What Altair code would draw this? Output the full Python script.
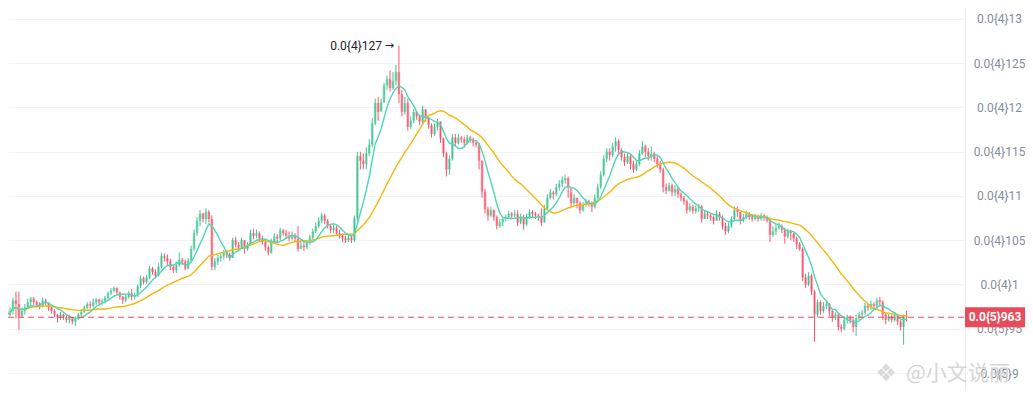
import altair as alt
import pandas as pd

# prices in units of 1e-6 (0.0{5}963 = 0.00000963 -> 9.63)
first_open = 9.72
close = [
    9.66, 9.70, 9.82, 9.78, 9.64, 9.70, 9.74, 9.80, 9.84, 9.80,
    9.77, 9.76, 9.82, 9.79, 9.74, 9.70, 9.66, 9.62, 9.66, 9.63,
    9.60, 9.62, 9.58, 9.61, 9.66, 9.69, 9.74, 9.78, 9.76, 9.80,
    9.83, 9.80, 9.81, 9.85, 9.90, 9.93, 9.96, 9.91, 9.86, 9.82,
    9.86, 9.90, 9.86, 9.88, 9.98, 10.07, 10.03, 10.08, 10.18, 10.14,
    10.10, 10.20, 10.32, 10.30, 10.26, 10.20, 10.16, 10.22, 10.28, 10.26,
    10.18, 10.27, 10.40, 10.58, 10.72, 10.80, 10.74, 10.82, 10.74, 10.20,
    10.26, 10.30, 10.32, 10.36, 10.34, 10.30, 10.50, 10.45, 10.42, 10.50,
    10.40, 10.45, 10.58, 10.55, 10.58, 10.52, 10.48, 10.42, 10.36, 10.48,
    10.54, 10.52, 10.61, 10.58, 10.55, 10.52, 10.56, 10.52, 10.40, 10.44,
    10.42, 10.47, 10.53, 10.60, 10.66, 10.72, 10.78, 10.72, 10.66, 10.62,
    10.64, 10.58, 10.55, 10.52, 10.50, 10.53, 10.50, 10.75, 11.45, 11.40,
    11.36, 11.48, 11.58, 11.82, 12.05, 11.95, 12.06, 12.25, 12.32, 12.22,
    12.30, 12.40, 12.15, 11.95, 12.05, 11.78, 11.85, 11.95, 11.90, 11.84,
    11.98, 11.88, 11.80, 11.70, 11.78, 11.84, 11.65, 11.48, 11.30, 11.42,
    11.66, 11.60, 11.66, 11.64, 11.60, 11.66, 11.64, 11.60, 11.58, 11.40,
    11.05, 10.85, 10.78, 10.84, 10.76, 10.66, 10.70, 10.74, 10.76, 10.80,
    10.78, 10.80, 10.70, 10.76, 10.68, 10.76, 10.82, 10.80, 10.78, 10.76,
    10.70, 10.86, 10.98, 11.04, 11.02, 11.10, 11.14, 11.18, 11.20, 11.10,
    10.92, 10.98, 10.92, 10.84, 10.90, 10.94, 10.92, 10.88, 10.98, 11.10,
    11.24, 11.42, 11.50, 11.46, 11.56, 11.62, 11.52, 11.44, 11.38, 11.45,
    11.36, 11.30, 11.36, 11.48, 11.56, 11.50, 11.45, 11.48, 11.42, 11.36,
    11.30, 11.10, 11.06, 11.12, 11.04, 11.08, 11.02, 10.98, 10.94, 10.84,
    10.88, 10.83, 10.86, 10.88, 10.74, 10.80, 10.78, 10.76, 10.72, 10.80,
    10.76, 10.66, 10.60, 10.66, 10.74, 10.84, 10.82, 10.72, 10.76, 10.80,
    10.76, 10.74, 10.77, 10.74, 10.78, 10.75, 10.72, 10.56, 10.60, 10.64,
    10.66, 10.62, 10.54, 10.60, 10.58, 10.52, 10.46, 10.40, 10.08, 10.00,
    10.10, 9.92, 9.66, 9.80, 9.70, 9.76, 9.78, 9.70, 9.62, 9.66,
    9.52, 9.50, 9.60, 9.63, 9.60, 9.52, 9.62, 9.66, 9.68, 9.76,
    9.74, 9.78, 9.76, 9.82, 9.80, 9.66, 9.60, 9.64, 9.60, 9.65,
    9.58, 9.52, 9.64, 9.63,
]
high = [
    9.75, 9.74, 9.85, 9.92, 9.92, 9.74, 9.78, 9.84, 9.86, 9.86,
    9.82, 9.80, 9.85, 9.84, 9.80, 9.75, 9.72, 9.67, 9.69, 9.67,
    9.65, 9.66, 9.63, 9.64, 9.68, 9.72, 9.76, 9.80, 9.81, 9.84,
    9.85, 9.84, 9.84, 9.87, 9.92, 9.96, 9.98, 9.97, 9.92, 9.87,
    9.89, 9.93, 9.95, 9.91, 10.00, 10.10, 10.09, 10.11, 10.21, 10.20,
    10.17, 10.24, 10.36, 10.35, 10.34, 10.29, 10.22, 10.26, 10.36, 10.30,
    10.28, 10.30, 10.44, 10.62, 10.76, 10.84, 10.81, 10.86, 10.84, 10.78,
    10.30, 10.34, 10.36, 10.39, 10.38, 10.36, 10.53, 10.54, 10.48, 10.53,
    10.50, 10.48, 10.62, 10.63, 10.62, 10.60, 10.55, 10.50, 10.44, 10.52,
    10.58, 10.57, 10.64, 10.63, 10.62, 10.60, 10.60, 10.58, 10.66, 10.50,
    10.50, 10.50, 10.56, 10.63, 10.70, 10.76, 10.81, 10.80, 10.74, 10.68,
    10.68, 10.66, 10.62, 10.58, 10.55, 10.56, 10.55, 10.78, 11.50, 11.50,
    11.48, 11.55, 11.64, 11.88, 12.10, 12.12, 12.10, 12.28, 12.36, 12.42,
    12.40, 12.48, 12.70, 12.20, 12.12, 12.10, 11.90, 11.98, 11.96, 11.92,
    12.02, 11.98, 11.90, 11.82, 11.82, 11.87, 11.84, 11.66, 11.50, 11.46,
    11.70, 11.70, 11.70, 11.68, 11.67, 11.69, 11.68, 11.66, 11.62, 11.60,
    11.40, 11.08, 10.88, 10.88, 10.85, 10.78, 10.74, 10.76, 10.79, 10.83,
    10.82, 10.84, 10.84, 10.80, 10.79, 10.80, 10.85, 10.84, 10.82, 10.80,
    10.86, 10.90, 11.02, 11.08, 11.06, 11.14, 11.18, 11.22, 11.24, 11.22,
    11.04, 11.02, 10.98, 10.94, 10.93, 10.97, 10.96, 10.94, 11.02, 11.14,
    11.28, 11.46, 11.54, 11.54, 11.60, 11.66, 11.64, 11.54, 11.48, 11.48,
    11.47, 11.40, 11.40, 11.52, 11.62, 11.58, 11.54, 11.56, 11.50, 11.46,
    11.40, 11.32, 11.14, 11.15, 11.14, 11.12, 11.10, 11.04, 11.00, 10.96,
    10.92, 10.90, 10.89, 10.91, 10.90, 10.83, 10.82, 10.80, 10.78, 10.84,
    10.82, 10.78, 10.70, 10.70, 10.77, 10.88, 10.88, 10.82, 10.80, 10.83,
    10.82, 10.79, 10.80, 10.79, 10.81, 10.80, 10.78, 10.74, 10.66, 10.68,
    10.70, 10.68, 10.64, 10.63, 10.62, 10.58, 10.54, 10.48, 10.42, 10.12,
    10.14, 10.12, 9.94, 9.83, 9.82, 9.80, 9.82, 9.79, 9.72, 9.69,
    9.68, 9.55, 9.64, 9.66, 9.65, 9.62, 9.66, 9.69, 9.71, 9.79,
    9.78, 9.82, 9.80, 9.85, 9.86, 9.82, 9.68, 9.67, 9.66, 9.68,
    9.66, 9.62, 9.66, 9.70,
]
low = [
    9.60, 9.64, 9.66, 9.62, 9.49, 9.62, 9.66, 9.72, 9.76, 9.77,
    9.74, 9.72, 9.74, 9.76, 9.70, 9.67, 9.63, 9.57, 9.60, 9.60,
    9.57, 9.56, 9.55, 9.53, 9.60, 9.64, 9.68, 9.72, 9.73, 9.74,
    9.77, 9.78, 9.77, 9.79, 9.83, 9.88, 9.91, 9.88, 9.83, 9.78,
    9.80, 9.84, 9.82, 9.83, 9.86, 9.96, 10.00, 10.01, 10.06, 10.11,
    10.07, 10.09, 10.18, 10.26, 10.22, 10.16, 10.13, 10.13, 10.20, 10.22,
    10.16, 10.17, 10.25, 10.38, 10.55, 10.66, 10.70, 10.68, 10.70, 10.16,
    10.16, 10.22, 10.26, 10.28, 10.30, 10.27, 10.30, 10.42, 10.38, 10.40,
    10.35, 10.38, 10.44, 10.51, 10.52, 10.48, 10.45, 10.38, 10.33, 10.35,
    10.46, 10.48, 10.50, 10.55, 10.52, 10.49, 10.50, 10.48, 10.37, 10.40,
    10.38, 10.40, 10.45, 10.51, 10.58, 10.64, 10.69, 10.68, 10.63, 10.58,
    10.58, 10.55, 10.52, 10.48, 10.47, 10.48, 10.47, 10.48, 10.72, 11.30,
    11.30, 11.30, 11.45, 11.55, 11.80, 11.85, 11.96, 12.05, 12.20, 12.18,
    12.20, 12.25, 12.05, 11.90, 11.92, 11.74, 11.76, 11.82, 11.86, 11.80,
    11.80, 11.84, 11.76, 11.66, 11.68, 11.74, 11.60, 11.44, 11.22, 11.24,
    11.40, 11.56, 11.58, 11.60, 11.57, 11.58, 11.60, 11.56, 11.55, 11.30,
    10.98, 10.80, 10.72, 10.76, 10.72, 10.62, 10.64, 10.66, 10.71, 10.74,
    10.75, 10.76, 10.66, 10.68, 10.62, 10.66, 10.74, 10.76, 10.74, 10.72,
    10.66, 10.70, 10.84, 10.96, 10.96, 11.00, 11.06, 11.10, 11.14, 10.98,
    10.88, 10.90, 10.86, 10.80, 10.82, 10.88, 10.88, 10.82, 10.86, 10.96,
    11.08, 11.22, 11.38, 11.40, 11.44, 11.50, 11.46, 11.40, 11.34, 11.36,
    11.30, 11.26, 11.28, 11.34, 11.46, 11.44, 11.40, 11.40, 11.38, 11.32,
    11.26, 11.04, 11.02, 11.05, 11.00, 11.00, 10.98, 10.94, 10.90, 10.80,
    10.82, 10.80, 10.80, 10.82, 10.70, 10.74, 10.74, 10.72, 10.68, 10.72,
    10.72, 10.62, 10.56, 10.58, 10.64, 10.72, 10.76, 10.68, 10.70, 10.74,
    10.73, 10.71, 10.72, 10.71, 10.72, 10.72, 10.70, 10.48, 10.54, 10.56,
    10.62, 10.58, 10.46, 10.52, 10.50, 10.48, 10.40, 10.38, 10.04, 9.96,
    9.98, 9.88, 9.35, 9.63, 9.66, 9.68, 9.72, 9.64, 9.58, 9.60,
    9.48, 9.46, 9.48, 9.56, 9.56, 9.46, 9.42, 9.60, 9.63, 9.66,
    9.70, 9.71, 9.72, 9.72, 9.75, 9.60, 9.55, 9.58, 9.57, 9.58,
    9.54, 9.48, 9.32, 9.58,
]
tick_values = [9.0, 9.5, 10.0, 10.5, 11.0, 11.5, 12.0, 12.5, 13.0]
watermark_text = "@小文说丽"

GREEN = "#2EBD85"
RED = "#F6465D"
TEAL = "#4FD6B8"
YELLOW = "#F5B70A"
GRAY = "#848E9C"

n = len(close)
opens = [first_open] + close[:-1]
df = pd.DataFrame({"i": list(range(n)), "open": opens, "close": close,
                   "high": high, "low": low})


def fmt_price(v):
    if v >= 10:
        s = f"{v / 10:.3f}".rstrip("0").rstrip(".").replace(".", "")
        return "0.0{4}" + s
    s = f"{v:.3f}".rstrip("0").rstrip(".").replace(".", "")
    return "0.0{5}" + s


last = close[-1]
imax = max(range(n), key=lambda k: high[k])
peak_df = pd.DataFrame({"i": [imax], "v": [high[imax]],
                        "t": [fmt_price(high[imax])]})
last_df = pd.DataFrame({"v": [last], "t": [fmt_price(last)]})
wm_df = pd.DataFrame({"t": [watermark_text]})

W, H = 957, 382
xs = alt.Scale(domain=[2, 321], nice=False, zero=False)
ys = alt.Scale(domain=[8.808, 13.124], nice=False, zero=False)

label_expr = ("datum.value >= 10 ? '0.0{4}' + replace(format(datum.value/10, '.3~f'), '.', '')"
              " : '0.0{5}' + replace(format(datum.value, '.3~f'), '.', '')")

yax = alt.Axis(orient="right", values=tick_values, grid=True, title=None,
               gridColor="#F2F3F5", gridWidth=1, domain=True,
               domainColor="#EDEEF0", ticks=False, tickSize=0,
               labelPadding=34, labelAlign="center",
               labelBaseline="middle", labelColor=GRAY,
               labelFontSize=12, labelFont="Roboto",
               labelExpr=label_expr)


def Y(field):
    return alt.Y(field, scale=ys, axis=yax, title=None)


X = alt.X("i:Q", scale=xs, axis=None)

base = alt.Chart(df)
col = alt.condition("datum.close >= datum.open", alt.value(GREEN), alt.value(RED))

wicks = base.mark_rule(strokeWidth=1, opacity=0.9, clip=True).encode(
    x=X, y=Y("low:Q"), y2="high:Q", color=col,
)

bodies = base.mark_bar(size=2.6, opacity=0.5, clip=True).encode(
    x=X, y=Y("open:Q"), y2="close:Q", color=col,
)

ma7 = base.transform_window(
    ma="mean(close)", frame=[-6, 0], sort=[alt.SortField("i")]
).mark_line(color=TEAL, strokeWidth=1.4, clip=True).encode(x=X, y=Y("ma:Q"))

ma25 = base.transform_window(
    ma="mean(close)", frame=[-24, 0], sort=[alt.SortField("i")]
).mark_line(color=YELLOW, strokeWidth=1.4, clip=True).encode(x=X, y=Y("ma:Q"))

last_line = alt.Chart(last_df).mark_rule(
    color=RED, strokeWidth=1, strokeDash=[6, 4]
).encode(x=alt.value(0), x2=alt.value(W), y=Y("v:Q"))

last_box = alt.Chart(last_df).transform_calculate(
    top="datum.v + 0.113", bot="datum.v - 0.113"
).mark_rect(color="#EA4A5A").encode(
    x=alt.value(W), x2=alt.value(W + 60), y=Y("top:Q"), y2="bot:Q",
)

last_text = alt.Chart(last_df).mark_text(
    color="white", fontSize=12, fontWeight="bold", font="Roboto",
    align="center", baseline="middle"
).encode(x=alt.value(W + 30), y=Y("v:Q"), text="t:N")

peak = alt.Chart(peak_df).mark_text(
    color="#1E2329", fontSize=12, font="Roboto", align="right",
    baseline="middle", dx=-17
).encode(x=X, y=Y("v:Q"), text="t:N")

peak_arrow = alt.Chart(peak_df).mark_text(
    color="#1E2329", fontSize=11, font="DejaVu Sans", align="right",
    baseline="middle", dx=-5
).encode(x=X, y=Y("v:Q"), text=alt.value("→"))

wm_logo = alt.Chart(wm_df).mark_text(
    color="#DADADA", fontSize=24, align="center", baseline="middle",
    font="DejaVu Sans"
).encode(x=alt.value(878), y=alt.value(366), text=alt.value("❖"))

wm = alt.Chart(wm_df).mark_text(
    color="#D6D6D6", fontSize=21, align="left", baseline="middle",
    font="Noto Sans CJK SC"
).encode(x=alt.value(898), y=alt.value(366), text="t:N")

chart = alt.layer(
    wicks, bodies, ma25, ma7, last_line, peak, peak_arrow, last_box,
    last_text, wm_logo, wm
).properties(
    width=W, height=H,
    autosize=alt.AutoSizeParams(type="none"),
    padding={"left": 0, "top": 0, "right": 60, "bottom": 0},
    background="white",
).configure_view(stroke=None)

chart.save("out.html", embed_options={"renderer": "svg", "actions": False})
